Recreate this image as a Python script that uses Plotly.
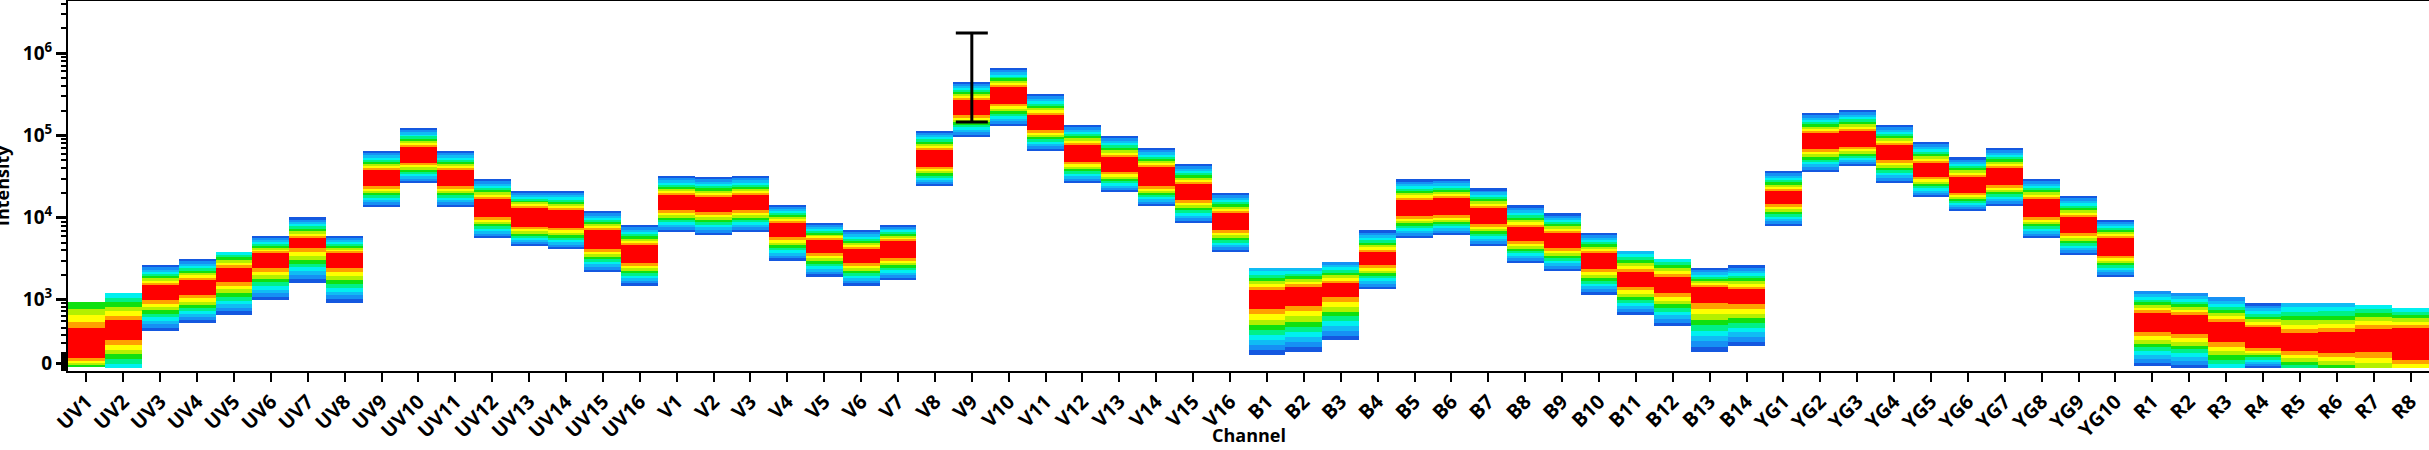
import numpy as np
import plotly.graph_objects as go

# ---------------- data ----------------
channels = ["UV1", "UV2", "UV3", "UV4", "UV5", "UV6", "UV7", "UV8", "UV9", "UV10", "UV11", "UV12",
            "UV13", "UV14", "UV15", "UV16",
            "V1", "V2", "V3", "V4", "V5", "V6", "V7", "V8", "V9", "V10", "V11", "V12", "V13", "V14",
            "V15", "V16",
            "B1", "B2", "B3", "B4", "B5", "B6", "B7", "B8", "B9", "B10", "B11", "B12", "B13", "B14",
            "YG1", "YG2", "YG3", "YG4", "YG5", "YG6", "YG7", "YG8", "YG9", "YG10",
            "R1", "R2", "R3", "R4", "R5", "R6", "R7", "R8"]

# upper end of each channel's distribution
upper = [917, 1194, 2668, 3155, 3838, 6006, 10220, 6006, 64770, 123300, 64770, 29600, 21160, 21160, 12090, 8170,
         32180, 31300, 32180, 14300, 8640, 7103, 8170, 113350, 446400, 660400, 319200, 134100, 98550, 70450, 45020, 20010,
         2455, 2455, 2900, 7103, 29600, 29600, 23000, 14300, 11430, 6531, 3948, 3155, 2455, 2669,
         37020, 187600, 204000, 134100, 83340, 54750, 70450, 29600, 18390, 9397,
         1267, 1194, 1063, 890, 890, 890, 838, 764]
# upper edge of the densest (red) core
core_upper = [393, 521, 1510, 1754, 2455, 3733, 5680, 3733, 38060, 72440, 38060, 16910, 13150, 12430, 7103, 4669,
              18910, 17880, 18910, 8640, 5370, 4175, 5222, 66610, 269900, 388200, 177300, 76620, 54750, 41400, 25730, 11430,
              1303, 1422, 1594, 3838, 16440, 17390, 13150, 7726, 6531, 3733, 2193, 1907, 1422, 1342,
              21160, 107200, 113350, 76620, 46300, 31300, 40250, 16910, 10220, 5680,
              654, 614, 487, 408, 324, 337, 379, 393]
# lower edge of the densest (red) core
core_lower = [48, 237, 973, 1127, 1658, 2455, 4293, 2455, 24330, 46300, 24330, 10220, 7726, 7514, 4175, 2821,
              12430, 11750, 12430, 5840, 3733, 2821, 3245, 41400, 177300, 241300, 116600, 47610, 35990, 24330, 16440, 7103,
              741, 813, 1063, 2669, 10510, 10810, 8404, 5222, 4293, 2386, 1422, 1194, 890, 863,
              14700, 68500, 72440, 50350, 31300, 20010, 25020, 10220, 6531, 3432,
              337, 311, 214, 149, 118, 98, 108, 29]
# lower end of each channel's distribution
lower = [-39, -48, 351, 470, 614, 973, 1613, 890, 13520, 26460, 13520, 5680, 4540, 4175, 2193, 1483,
         6718, 6176, 6718, 2984, 1907, 1483, 1753, 24330, 95830, 130400, 64770, 26460, 20570, 13900, 8640, 3838,
         78, 108, 237, 1342, 5680, 6176, 4540, 2821, 2256, 1127, 614, 423, 108, 170,
         7946, 35990, 42580, 26460, 17880, 12090, 13900, 5680, 3529, 1907,
         -29, -48, -48, -48, -48, -48, -48, -48]
# density level (0 = sparsest colour) at the top / bottom edge of each column
edge_top = [5, 3, 0, 0, 3, 0, 0, 0, 0, 0, 0, 0, 0, 0, 0, 0,
            0, 0, 0, 0, 0, 0, 0, 0, 0, 0, 0, 0, 0, 0, 0, 0,
            2, 2, 1, 0, 0, 0, 0, 0, 0, 0, 2, 3, 0, 0,
            0, 0, 0, 0, 0, 0, 0, 0, 0, 0,
            1, 1, 1, 0, 2, 2, 3, 3]
edge_bottom = [5, 3, 0, 0, 0, 0, 0, 0, 0, 0, 0, 0, 0, 0, 0, 0,
               0, 0, 0, 0, 0, 0, 0, 0, 0, 0, 0, 0, 0, 0, 0, 0,
               0, 0, 0, 0, 0, 0, 0, 0, 0, 0, 0, 0, 0, 0,
               0, 0, 0, 0, 0, 0, 0, 0, 0, 0,
               0, 0, 3, 0, 4, 5, 6, 7]

err_channel = "V9"
err_low = 145800
err_high = 1758000

ytick_values = [0, 1e3, 1e4, 1e5, 1e6]
ytick_labels = ["0", "10<sup>3</sup>", "10<sup>4</sup>", "10<sup>5</sup>", "10<sup>6</sup>"]

level_colors = ["#1458e0", "#1690f4", "#10bcf4", "#00f0f0", "#00f088",
                "#10e010", "#b4f000", "#ffff00", "#ffa000", "#ff0000"]

# ---------------- biexponential-like display transform ----------------
W = 344.0


def tr(v):
    return np.arcsinh(np.asarray(v, dtype=float) / W) / np.log(10)


NL = len(level_colors)
grid = np.arange(-0.12, 4.42, 0.004)
z = np.full((len(grid), len(channels)), np.nan)
for j in range(len(channels)):
    tl, tcl, tch, th = tr(lower[j]), tr(core_lower[j]), tr(core_upper[j]), tr(upper[j])
    eb, et = edge_bottom[j], edge_top[j]
    below = (grid >= tl) & (grid < tcl)
    frac = (grid[below] - tl) / (tcl - tl)
    z[below, j] = np.clip(np.floor(eb + frac * (NL - 1 - eb)), 0, NL - 2)
    core = (grid >= tcl) & (grid <= tch)
    z[core, j] = NL - 1
    above = (grid > tch) & (grid <= th)
    frac = (th - grid[above]) / (th - tch)
    z[above, j] = np.clip(np.floor(et + frac * (NL - 1 - et)), 0, NL - 2)

zlist = [[None if np.isnan(v) else int(v) for v in row] for row in z]

colorscale = []
for i, c in enumerate(level_colors):
    colorscale.append([i / NL, c])
    colorscale.append([(i + 1) / NL, c])

fig = go.Figure()
fig.add_trace(go.Heatmap(
    x=channels, y=grid.tolist(), z=zlist,
    colorscale=colorscale, zmin=-0.5, zmax=NL - 0.5,
    showscale=False, zsmooth=False, hoverinfo="skip",
))

t_lo, t_hi = float(tr(err_low)), float(tr(err_high))
fig.add_trace(go.Scatter(
    x=[err_channel], y=[(t_lo + t_hi) / 2], mode="markers",
    marker=dict(size=1, color="rgba(0,0,0,0)"),
    error_y=dict(type="data", symmetric=True, array=[(t_hi - t_lo) / 2],
                 color="black", thickness=3, width=16),
    hoverinfo="skip", showlegend=False,
))

minor_vals = []
for e in range(1, 7):
    for m in range(1, 10):
        v = m * 10 ** e
        if v <= 4e6 and v not in ytick_values:
            minor_vals.append(v)
minor_vals += [-m * 10 for m in range(1, 10)] + [-100]

font_family = "Open Sans, Noto Sans, DejaVu Sans, sans-serif"

fig.update_layout(
    width=2429, height=450,
    margin=dict(l=68, r=0, t=1, b=79),
    paper_bgcolor="white", plot_bgcolor="white",
    showlegend=False,
    font=dict(family=font_family, color="black"),
    xaxis=dict(
        type="category", range=[-0.5, len(channels) - 0.5],
        showline=True, linecolor="black", linewidth=2, mirror=True,
        ticks="outside", ticklen=9, tickwidth=2, tickcolor="black",
        tickangle=-45, tickfont=dict(size=20, weight=700, color="black", family=font_family),
        showgrid=False, zeroline=False,
    ),
    yaxis=dict(
        range=[-0.097, 4.3985],
        tickmode="array", tickvals=tr(ytick_values).tolist(), ticktext=ytick_labels,
        ticks="outside", ticklen=10, tickwidth=2.5, tickcolor="black",
        tickfont=dict(size=19, weight=700, color="black", family=font_family),
        minor=dict(tickmode="array", tickvals=tr(minor_vals).tolist(), ticks="outside",
                   ticklen=5, tickwidth=1.5, tickcolor="black"),
        showline=True, linecolor="black", linewidth=2,
        showgrid=False, zeroline=False,
    ),
    annotations=[
        dict(text="Channel", xref="paper", yref="paper", x=0.5, y=-0.173,
             xanchor="center", yanchor="middle", showarrow=False,
             font=dict(size=18, weight=700, color="black", family=font_family)),
        dict(text="Intensity", xref="paper", yref="paper", x=-66 / 2361, y=0.5,
             xanchor="center", yanchor="middle", textangle=-90, showarrow=False,
             font=dict(size=18, weight=700, color="black", family=font_family)),
    ],
)

fig.write_html("out.html")
